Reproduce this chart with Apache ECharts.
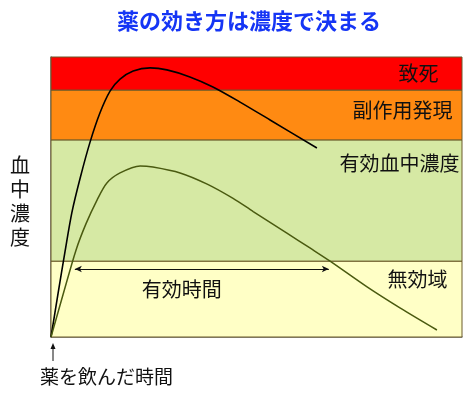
<!DOCTYPE html>
<html><head><meta charset="utf-8">
<script src="https://cdn.jsdelivr.net/npm/echarts@6/dist/echarts.min.js"></script>
<style>html,body{margin:0;padding:0;background:#fff}#c{width:474px;height:395px}</style>
</head><body><div id="c"></div>
<script>
// ---- data ----
const highX = [0,1.7,3.4,5.1,7.1,9.5,11.9,14.4,16.8,20.0,24.1,28.2,33.8,39.4,46.0,53.3,64.7];
const highY = [0,15.4,30.4,44.6,56.8,69.6,80.0,87.9,92.1,95.0,96.1,95.4,92.9,89.3,83.9,77.5,67.5];
const normX = [0,2.9,6.1,8.5,11.2,13.6,16.8,21.7,24.8,31.4,38.0,44.3,49.2,57.4,63.0,67.9,76.9,84.9,93.9];
const normY = [0,15.0,31.1,40.4,48.9,55.0,58.6,61.1,60.7,58.6,54.6,49.5,44.8,37.1,31.8,27.1,17.9,10.4,2.5];
const bandEdges = [0,27.1,70.4,88.2,100];
const bandNames = ['無効域','有効血中濃度','副作用発現','致死'];
const effStart = 5.8, effEnd = 67.6, effLevel = 24.3;
const titleText = '薬の効き方は濃度で決まる';
const yName = '血中濃度';
const xNote = '薬を飲んだ時間';
const effName = '有効時間';

// ---- styles ----
const FONT = '"Noto Sans CJK JP", sans-serif';
const bandColors = ['#ffffc6','#d6e9a4','#ff8a12','#ff0000'];
const bandLabelPos = [
  {position:'insideTopRight', distance:9, offset:[-6,0]},
  {position:'insideTopRight', distance:3, offset:[0,11]},
  {position:'insideTopRight', distance:10, offset:[0,1]},
  {position:'insideRight', distance:24, offset:[0,0]}
];

const chart = echarts.init(document.getElementById('c'), null, {renderer:'canvas'});
const areaData = bandNames.map((n,i)=>[
  {yAxis:bandEdges[i], name:n, itemStyle:{color:bandColors[i]},
   label:Object.assign({show:true, color:'#111', fontSize:20, fontFamily:FONT}, bandLabelPos[i])},
  {yAxis:bandEdges[i+1]}
]);

chart.setOption({
  animation:false,
  title:{text:titleText, left:112, top:5,
    textStyle:{color:'#1535f5', fontSize:22, fontWeight:'bold', fontFamily:FONT}},
  grid:{left:51, top:57, width:411, height:280},
  xAxis:{type:'value', min:0, max:100, axisLine:{show:true, lineStyle:{color:'#707070', width:1.5}},
    axisTick:{show:false}, axisLabel:{show:false}, splitLine:{show:false}},
  yAxis:{type:'value', min:0, max:100, axisLine:{show:true, lineStyle:{color:'#707070', width:1.5}},
    axisTick:{show:false}, axisLabel:{show:false}, splitLine:{show:false}},
  series:[
    {type:'line', data:[], z:1, silent:true,
     markArea:{silent:true, itemStyle:{borderColor:'#6b5a2a', borderWidth:1}, data:areaData}},
    {type:'line', z:3, data:highX.map((x,i)=>[x,highY[i]]), smooth:0.3, showSymbol:false,
     lineStyle:{color:'#000', width:1.6}},
    {type:'line', z:3, data:normX.map((x,i)=>[x,normY[i]]), smooth:0.3, showSymbol:false,
     lineStyle:{color:'#4a5a10', width:1.5},
     markLine:{silent:true, symbol:['arrow','arrow'], symbolSize:[5,7],
       lineStyle:{color:'#111', width:1, type:'solid'},
       label:{show:true, formatter:effName, position:'middle', distance:0,
         color:'#111', fontSize:20, fontFamily:FONT, offset:[-20,30]},
       data:[[{coord:[effStart,effLevel]},{coord:[effEnd,effLevel]}]]}}
  ],
  graphic:[
    {type:'text', left:10, top:153, style:{text:yName.split('').join('\n'), fontSize:20, lineHeight:24,
      fontFamily:FONT, fill:'#111'}},
    {type:'line', shape:{x1:53, y1:361, x2:53, y2:346}, style:{stroke:'#111', lineWidth:1}},
    {type:'polygon', shape:{points:[[53,343],[50.5,349],[55.5,349]]}, style:{fill:'#111'}},
    {type:'text', left:40, top:367, style:{text:xNote, fontSize:19, fontFamily:FONT, fill:'#111'}}
  ]
});
</script></body></html>
